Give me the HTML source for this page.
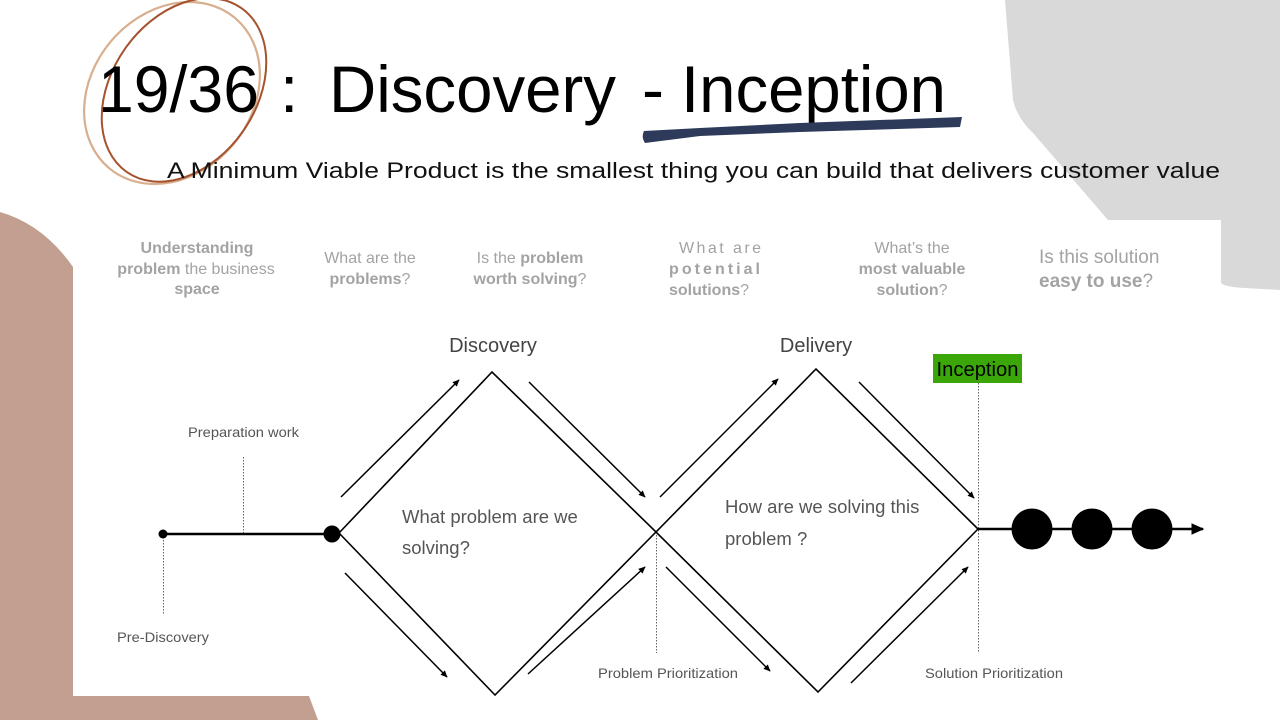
<!DOCTYPE html>
<html>
<head>
<meta charset="utf-8">
<style>
  html, body { margin: 0; padding: 0; background: #ffffff; }
  body { width: 1280px; height: 720px; overflow: hidden; }
  svg { display: block; }
  text { font-family: "Liberation Sans", Arial, sans-serif; }
</style>
</head>
<body>
<svg width="1280" height="720" viewBox="0 0 1280 720" xmlns="http://www.w3.org/2000/svg">
  <defs>
    <marker id="ah" viewBox="0 0 10 10" refX="9" refY="5" markerWidth="7" markerHeight="7" orient="auto" markerUnits="userSpaceOnUse">
      <path d="M0,0.5 L10,5 L0,9.5 Z" fill="#000"/>
    </marker>
    <marker id="ahBig" viewBox="0 0 10 10" refX="9" refY="5" markerWidth="13" markerHeight="13" orient="auto" markerUnits="userSpaceOnUse">
      <path d="M0,0.5 L10,5 L0,9.5 Z" fill="#000"/>
    </marker>
  </defs>

  <!-- background shapes -->
  <path d="M0,212 Q43.5,224.5 73,267 L73,696 L309,696 L318,720 L0,720 Z" fill="#c39f91"/>
  <path d="M1005,0 L1013,100 Q1017,118 1033,133 L1108,220 L1221,220 L1221,283 Q1225,287 1245,288 L1280,290 L1280,0 Z" fill="#d9d9d9"/>

  <!-- scribble circle -->
  <ellipse cx="172" cy="93" rx="98" ry="80" transform="rotate(-50 172 93)" fill="none" stroke="#d9ae8e" stroke-width="2.2"/>
  <ellipse cx="184" cy="90" rx="100" ry="72" transform="rotate(-55 184 90)" fill="none" stroke="#a5532f" stroke-width="2"/>

  <!-- title -->
  <g fill="#000" font-size="66">
    <text x="98" y="112" textLength="161" lengthAdjust="spacingAndGlyphs">19/36</text>
    <text x="280" y="112">:</text>
    <text x="329" y="112" textLength="287" lengthAdjust="spacingAndGlyphs">Discovery</text>
    <text x="642" y="112">-</text>
    <text x="681" y="112" textLength="265" lengthAdjust="spacingAndGlyphs">Inception</text>
  </g>

  <!-- brush underline -->
  <path d="M644,131 L700,128 L800,123 L962,117 L960,127 L800,132 L700,136 L645,143 Q641,137 644,131 Z" fill="#2e3a59"/>

  <!-- subtitle -->
  <text x="167" y="178" font-size="22.5" fill="#111" textLength="1053" lengthAdjust="spacingAndGlyphs">A Minimum Viable Product is the smallest thing you can build that delivers customer value</text>

  <!-- question headers -->
  <g fill="#a3a3a3" font-size="16" text-anchor="middle">
    <text x="197" y="253" font-weight="bold">Understanding</text>
    <text x="196" y="274"><tspan font-weight="bold">problem</tspan> the business</text>
    <text x="197" y="294" font-weight="bold">space</text>

    <text x="370" y="263">What are the</text>
    <text x="370" y="284"><tspan font-weight="bold">problems</tspan>?</text>

    <text x="530" y="263">Is the <tspan font-weight="bold">problem</tspan></text>
    <text x="530" y="284"><tspan font-weight="bold">worth solving</tspan>?</text>

    <text x="912" y="253">What’s the</text>
    <text x="912" y="274" font-weight="bold">most valuable</text>
    <text x="912" y="295"><tspan font-weight="bold">solution</tspan>?</text>
  </g>
  <g fill="#a3a3a3" font-size="16">
    <text x="679" y="253" textLength="82" lengthAdjust="spacing">What  are</text>
    <text x="669" y="274" font-weight="bold" textLength="91" lengthAdjust="spacing">potential</text>
    <text x="669" y="295"><tspan font-weight="bold">solutions</tspan>?</text>
  </g>
  <g fill="#a3a3a3" font-size="19">
    <text x="1039" y="263">Is this solution</text>
    <text x="1039" y="287"><tspan font-weight="bold">easy to use</tspan>?</text>
  </g>

  <!-- dotted guides -->
  <g stroke="#666" stroke-width="1" stroke-dasharray="1.5,1.5" fill="none">
    <line x1="163.5" y1="534" x2="163.5" y2="615"/>
    <line x1="243.5" y1="457" x2="243.5" y2="534"/>
    <line x1="656.5" y1="532" x2="656.5" y2="653"/>
    <line x1="978.5" y1="383" x2="978.5" y2="653"/>
  </g>

  <!-- pre-discovery line -->
  <line x1="163" y1="534" x2="332" y2="534" stroke="#000" stroke-width="2.6"/>
  <circle cx="163" cy="534" r="4.5" fill="#000"/>
  <circle cx="332" cy="534" r="8.5" fill="#000"/>

  <!-- diamonds -->
  <g stroke="#000" stroke-width="1.6" fill="none">
    <polyline points="339,533 492,372 656,532 816,369 978,529"/>
    <polyline points="339,533 495,695 656,532 818,692 978,529"/>
  </g>

  <!-- arrows -->
  <g stroke="#000" stroke-width="1.5" fill="none" marker-end="url(#ah)">
    <line x1="341" y1="497" x2="459" y2="380"/>
    <line x1="529" y1="382" x2="645" y2="497"/>
    <line x1="345" y1="573" x2="447" y2="677"/>
    <line x1="528" y1="674" x2="645" y2="567"/>

    <line x1="660" y1="497" x2="778" y2="379"/>
    <line x1="859" y1="382" x2="974" y2="498"/>
    <line x1="666" y1="567" x2="770" y2="671"/>
    <line x1="851" y1="683" x2="968" y2="567"/>
  </g>

  <!-- right timeline -->
  <line x1="978" y1="529" x2="1203" y2="529" stroke="#000" stroke-width="2.6" marker-end="url(#ahBig)"/>
  <circle cx="1032" cy="529" r="20.5" fill="#000"/>
  <circle cx="1092" cy="529" r="20.5" fill="#000"/>
  <circle cx="1152" cy="529" r="20.5" fill="#000"/>

  <!-- inception box -->
  <rect x="933" y="354" width="89" height="29" fill="#3aa608"/>
  <text x="977.5" y="376" font-size="20" fill="#000" text-anchor="middle" textLength="82" lengthAdjust="spacingAndGlyphs">Inception</text>

  <!-- diagram labels -->
  <g fill="#444" font-size="20" text-anchor="middle">
    <text x="493" y="352">Discovery</text>
    <text x="816" y="352">Delivery</text>
  </g>
  <g fill="#555" font-size="18.5">
    <text x="402" y="523">What problem are we</text>
    <text x="402" y="554">solving?</text>
    <text x="725" y="513">How are we solving this</text>
    <text x="725" y="545">problem ?</text>
  </g>
  <g fill="#555" font-size="14">
    <text x="188" y="437" textLength="111" lengthAdjust="spacingAndGlyphs">Preparation work</text>
    <text x="117" y="642" textLength="92" lengthAdjust="spacingAndGlyphs">Pre-Discovery</text>
    <text x="598" y="678" textLength="140" lengthAdjust="spacingAndGlyphs">Problem Prioritization</text>
    <text x="925" y="678" textLength="138" lengthAdjust="spacingAndGlyphs">Solution Prioritization</text>
  </g>
</svg>
</body>
</html>
